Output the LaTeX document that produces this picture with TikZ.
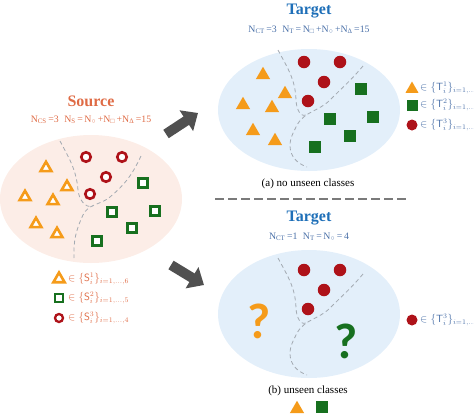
\documentclass[tikz,border=0pt]{standalone}
\usepackage{fontspec}
\usepackage{amssymb}
\setmainfont{Liberation Serif}
\newfontfamily\qfont{Carlito}
\usetikzlibrary{shapes.geometric,arrows.meta}
\definecolor{tri}{HTML}{F59B1A}
\definecolor{cir}{HTML}{AE1219}
\definecolor{sqr}{HTML}{17701F}
\definecolor{pinkbg}{HTML}{FCEDE7}
\definecolor{bluebg}{HTML}{E3EFFA}
\definecolor{srctxt}{HTML}{DF6B45}
\definecolor{tgttitle}{HTML}{1E6FB8}
\definecolor{tgttxt}{HTML}{4A70A8}
\definecolor{arrowgray}{HTML}{505050}
\definecolor{dashgray}{HTML}{A3AAB2}
\definecolor{sepgray}{HTML}{7A7A7A}
\begin{document}
\begin{tikzpicture}[x=1pt,y=-1pt,
  otri/.style={regular polygon,regular polygon sides=3,draw=tri,line width=2.6pt,fill=white,minimum size=12.5pt,inner sep=0pt},
  ocir/.style={circle,draw=cir,line width=2.6pt,fill=white,minimum size=9.5pt,inner sep=0pt},
  osqr/.style={rectangle,draw=sqr,line width=2.6pt,fill=white,minimum size=9.5pt,inner sep=0pt},
  ftri/.style={regular polygon,regular polygon sides=3,fill=tri,minimum size=16.5pt,inner sep=0pt},
  fcir/.style={circle,fill=cir,minimum size=12.5pt,inner sep=0pt},
  fsqr/.style={rectangle,fill=sqr,minimum size=12.5pt,inner sep=0pt},
  blob/.style={ellipse,inner sep=0pt,minimum width=182pt},
  title/.style={anchor=base,font=\bfseries\fontsize{16}{16}\selectfont},
  formula/.style={anchor=base,font=\fontsize{9.8}{10}\selectfont},
  caption/.style={anchor=base,font=\fontsize{11}{12}\selectfont,text=black},
  legtxt/.style={anchor=west,inner sep=0pt,font=\fontsize{10.5}{11}\selectfont},
  sep/.style={draw=dashgray,line width=0.8pt,dash pattern=on 4pt off 3pt},
  bigarrow/.style={line width=10pt,arrowgray,-{Triangle[length=14pt,width=24pt]}},
  qmark/.style={font=\qfont\bfseries\fontsize{50}{50}\selectfont,inner sep=0pt}
]
\clip (0,0) rectangle (474,413);

% ---------------- Source ----------------
\node[blob,fill=pinkbg,minimum height=128pt] (srcE) at (91,199) {};
\draw[sep] (60,141) to[out=-62,in=95] (78,190) to[out=-85,in=200] (93,206);
\draw[sep] (141,156) to[out=-115,in=40] (110,197) to[out=-140,in=65] (83,215) to[out=-115,in=92] (74,258);

\foreach \p [count=\i] in {(46,168),(67,187),(25,197),(53,201),(36,224),(57,234)}
  \node[otri] (st\i) at \p {};
\foreach \p [count=\i] in {(86,157),(122,157),(106,177),(90,194)}
  \node[ocir] (sc\i) at \p {};
\foreach \p [count=\i] in {(143,183),(112,212),(155,211),(132,228),(97,241)}
  \node[osqr] (ss\i) at \p {};

\node[title,text=srctxt] (srcT) at (91,106) {Source};
\node[formula,text=srctxt] (srcF) at (91,122)
  {N\textsubscript{CS}\,=3\;\;N\textsubscript{S}\,=\,N\textsubscript{○}\,+N\textsubscript{□}\,+N\textsubscript{Δ}\,=15};

% source legend
\node[otri,minimum size=13pt] (lst) at (59,279) {};
\node[legtxt,text=srctxt] (lstT) at (68,279) {$\in\{\mathsf{S}_i^1\}_{i=1,\ldots,6}$};
\node[osqr,minimum size=8pt,line width=2.3pt] (lss) at (59,298) {};
\node[legtxt,text=srctxt] (lssT) at (68,298) {$\in\{\mathsf{S}_i^2\}_{i=1,\ldots,5}$};
\node[ocir,minimum size=8pt,line width=2.3pt] (lsc) at (59,318) {};
\node[legtxt,text=srctxt] (lscT) at (68,318) {$\in\{\mathsf{S}_i^3\}_{i=1,\ldots,4}$};

% ---------------- arrows ----------------
\coordinate (a1s) at (166,134);
\coordinate (a1e) at (198,113);
\coordinate (a2s) at (171,265);
\coordinate (a2e) at (204,285);
\draw[bigarrow] (a1s) -- (a1e);
\draw[bigarrow] (a2s) -- (a2e);

% ---------------- Target (a) ----------------
\node[blob,fill=bluebg,minimum height=122pt] (t1E) at (309,110) {};
\draw[sep] (278,50) to[out=-62,in=92] (296,100) to[out=-88,in=200] (306,115);
\draw[sep] (363,66) to[out=-130,in=45] (330,100) to[out=-135,in=60] (297,125) to[out=-115,in=90] (290,146) to[out=-88,in=160] (307,167);

\foreach \p [count=\i] in {(263,75),(285,94),(243,105),(272,108),(253,131),(275,141)}
  \node[ftri] (at\i) at \p {};
\foreach \p [count=\i] in {(304,62),(340,62),(324,82),(308,101)}
  \node[fcir] (ac\i) at \p {};
\foreach \p [count=\i] in {(361,89),(330,119),(373,117),(350,136),(315,147)}
  \node[fsqr] (as\i) at \p {};

\node[title,text=tgttitle] (t1T) at (309,14) {Target};
\node[formula,text=tgttxt] (t1F) at (309,32)
  {N\textsubscript{CT}\,=3\;\;N\textsubscript{T}\,=\,N\textsubscript{□}\,+N\textsubscript{○}\,+N\textsubscript{Δ}\,=15};
\node[caption] (capA) at (308,186) {(a) no unseen classes};

% target legend
\node[ftri,minimum size=15pt] (ltt) at (412,89) {};
\node[legtxt,text=tgttxt] (lttT) at (420,88) {$\in\{\mathsf{T}_i^1\}_{i=1,\ldots,6}$};
\node[fsqr,minimum size=11pt] (lts) at (412,105) {};
\node[legtxt,text=tgttxt] (ltsT) at (420,105) {$\in\{\mathsf{T}_i^2\}_{i=1,\ldots,5}$};
\node[fcir,minimum size=11pt] (ltc) at (412,125) {};
\node[legtxt,text=tgttxt] (ltcT) at (420,125) {$\in\{\mathsf{T}_i^3\}_{i=1,\ldots,4}$};

% separator
\coordinate (sepL) at (215,199);
\coordinate (sepR) at (408,199);
\draw[sepgray,line width=1.5pt,dash pattern=on 9pt off 4pt] (sepL) -- (sepR);

% ---------------- Target (b) ----------------
\node[blob,fill=bluebg,minimum height=128pt] (t2E) at (309,314) {};
\begin{scope}[yshift=-208pt]
\draw[sep] (278,50) to[out=-62,in=92] (296,100) to[out=-88,in=200] (306,115);
\draw[sep] (363,66) to[out=-130,in=45] (330,100) to[out=-135,in=60] (297,125) to[out=-115,in=90] (290,146) to[out=-88,in=160] (307,167);
\foreach \p [count=\i] in {(304,62),(340,62),(324,82),(308,101)}
  \node[fcir] (bc\i) at \p {};
\end{scope}

\node[qmark,text=tri] (q1) at (259,321) {?};
\node[qmark,text=sqr] (q2) at (346,341) {?};

\node[title,text=tgttitle] (t2T) at (309,221) {Target};
\node[formula,text=tgttxt] (t2F) at (309,239)
  {N\textsubscript{CT}\,=1\;\;N\textsubscript{T}\,=\,N\textsubscript{○}\,=\,4};
\node[caption] (capB) at (308,393) {(b) unseen classes};

\node[fcir,minimum size=11pt] (lbc) at (412,320) {};
\node[legtxt,text=tgttxt] (lbcT) at (420,320) {$\in\{\mathsf{T}_i^3\}_{i=1,\ldots,4}$};

% bottom partial symbols
\node[ftri] (bt) at (297,409) {};
\node[fsqr] (bs) at (322,407) {};
\end{tikzpicture}
\end{document}
